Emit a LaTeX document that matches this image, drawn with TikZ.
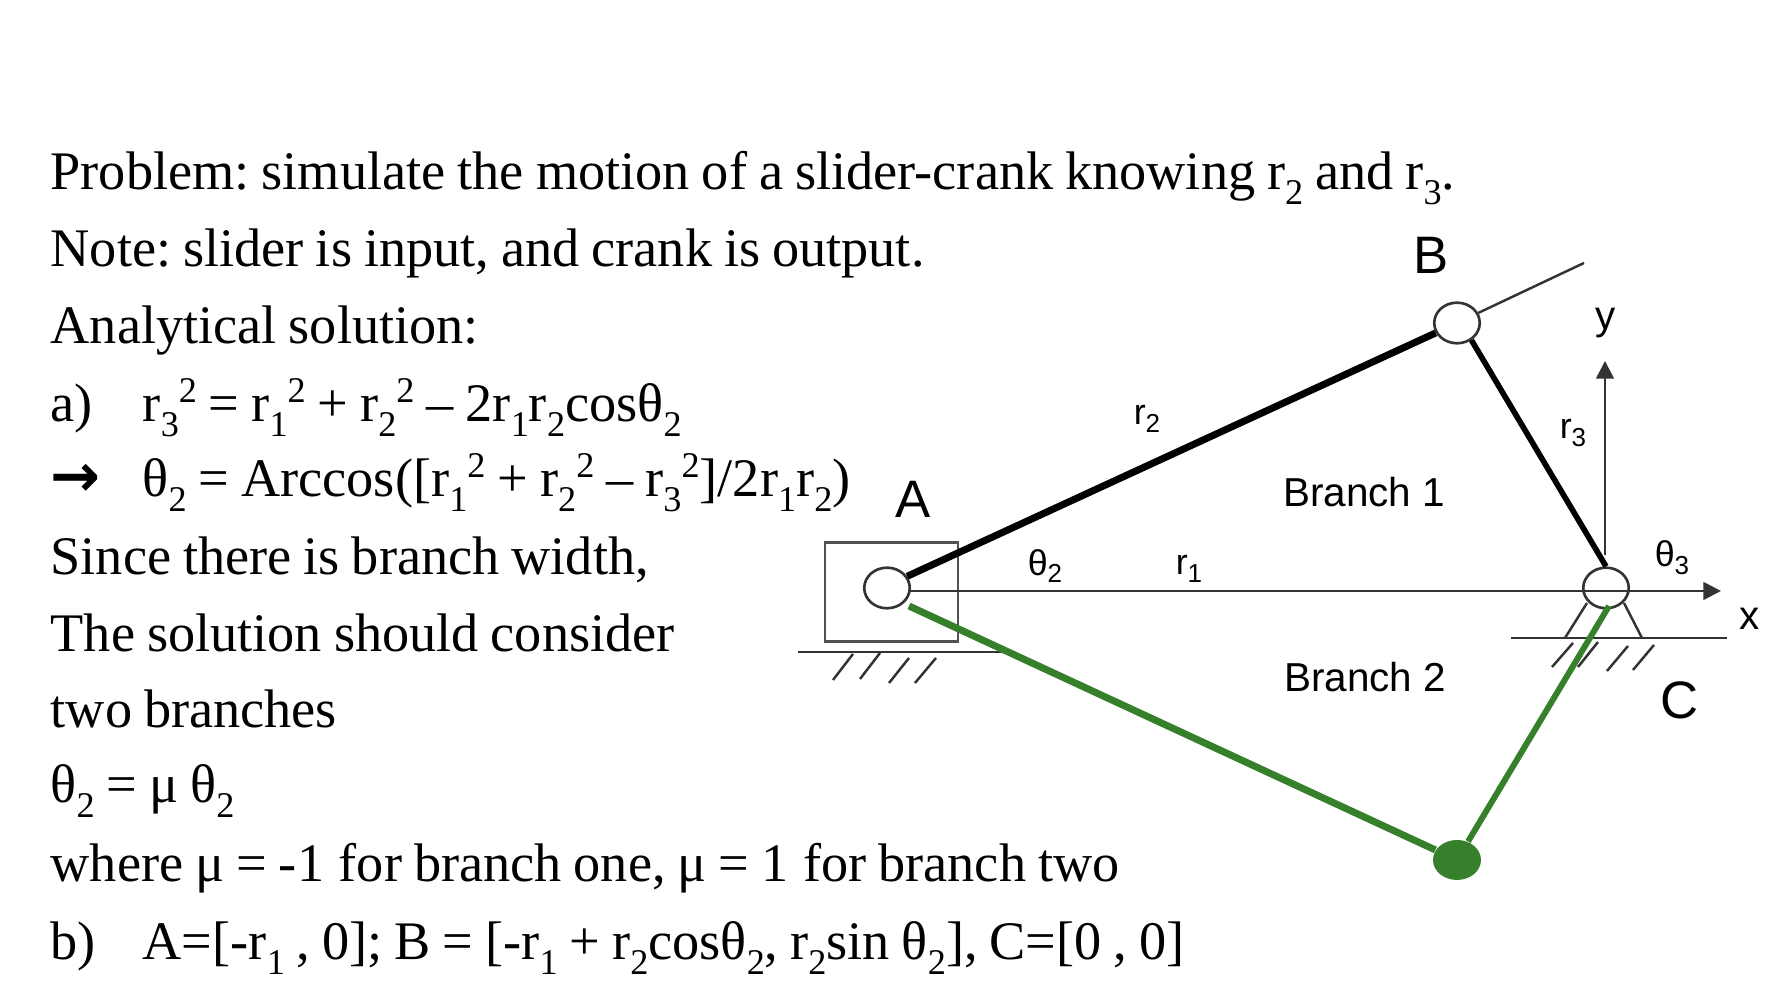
\documentclass[tikz,border=0pt]{standalone}
\usepackage{fontspec}
\setmainfont{Liberation Serif}
\newfontfamily\labelfont{Liberation Sans}
\newfontfamily\arrowfont{DejaVu Sans}
\usetikzlibrary{shapes.geometric,arrows.meta,positioning}
\newcommand{\rsub}[1]{\raisebox{-4pt}{\fontsize{10.3}{11}\selectfont #1}}
\newcommand{\rsup}[1]{\raisebox{5.4pt}{\fontsize{10.3}{11}\selectfont #1}}
\newcommand{\lsub}[1]{\raisebox{-2.2pt}{\fontsize{7.4}{8}\selectfont #1}}
\newcommand{\linefont}{\fontsize{15.45}{18}\selectfont\frenchspacing\setlength{\spaceskip}{0.22em}}
\definecolor{branchgreen}{HTML}{37802B}
\definecolor{thinline}{HTML}{333333}
\tikzset{
    textline/.style={anchor=base west, inner sep=0pt, font=\linefont},
    joint/.style={draw=thinline, line width=0.75pt, fill=white, ellipse, inner sep=0pt, minimum width=4.55mm, minimum height=4.06mm},
    greenjoint/.style={fill=branchgreen, ellipse, inner sep=0pt, minimum width=4.8mm, minimum height=4.0mm},
    thinlink/.style={draw=thinline, line width=0.7pt},
    axisarrow/.style={thinlink, -{Triangle[length=5pt,width=5pt]}},
    blacklink/.style={draw=black, line width=2pt},
    greenlink/.style={draw=branchgreen, line width=2pt},
    capletter/.style={inner sep=0pt, font=\labelfont\fontsize{15}{17}\selectfont},
    smalllabel/.style={inner sep=0pt, font=\labelfont\fontsize{10.2}{12}\selectfont},
    branchlabel/.style={inner sep=0pt, font=\labelfont\fontsize{11.5}{13}\selectfont}
}
\begin{document}
\begin{tikzpicture}
    \useasboundingbox (0,0) rectangle (17.74,10);
    % text lines
    \node[textline] (lineone) at (0.5,8.10) {Problem: simulate the motion of a slider-crank knowing r\rsub{2} and r\rsub{3}.};
    \node[textline] (linetwo) at (0.5,7.33) {Note: slider is input, and crank is output.};
    \node[textline] (linethree) at (0.5,6.56) {Analytical solution:};
    \node[textline] (itema) at (0.5,5.78) {a)};
    \node[textline] (eqa) at (1.42,5.78) {r\rsub{3}\rsup{2} = r\rsub{1}\rsup{2} + r\rsub{2}\rsup{2} -- 2r\rsub{1}r\rsub{2}cosθ\rsub{2}};
    \node[textline, font=\arrowfont\bfseries\fontsize{17}{18}\selectfont] (itemarrow) at (0.5,5.03) {→};
    \node[textline] (eqarrow) at (1.42,5.03) {θ\rsub{2} = Arccos([r\rsub{1}\rsup{2} + r\rsub{2}\rsup{2} -- r\rsub{3}\rsup{2}]/2r\rsub{1}r\rsub{2})};
    \node[textline] (linesix) at (0.5,4.25) {Since there is branch width,};
    \node[textline] (lineseven) at (0.5,3.48) {The solution should consider};
    \node[textline] (lineeight) at (0.5,2.72) {two branches};
    \node[textline] (linenine) at (0.5,1.97) {θ\rsub{2} = μ θ\rsub{2}};
    \node[textline] (lineten) at (0.5,1.18) {where μ = -1\hspace{0.05em} for branch one, μ = 1\hspace{0.05em} for branch two};
    \node[textline] (itemb) at (0.5,0.40) {b)};
    \node[textline] (eqb) at (1.42,0.40) {A=[-r\rsub{1} , 0]; B = [-r\rsub{1} + r\rsub{2}cosθ\rsub{2}, r\rsub{2}sin θ\rsub{2}], C=[0 , 0]};
    % slider block and ground
    \draw[thinlink, draw=thinline!85, line width=0.85pt] (8.25,4.57) rectangle (9.58,3.58);
    \draw[thinlink] (7.98,3.48) -- (10.02,3.48);
    \draw[thinlink] (8.53,3.46) -- (8.33,3.20) (8.80,3.47) -- (8.60,3.21) (9.09,3.42) -- (8.89,3.17) (9.36,3.42) -- (9.15,3.17);
    % pin support and ground
    \draw[thinlink] (15.87,3.97) -- (15.65,3.62) (16.24,3.97) -- (16.42,3.62);
    \draw[thinlink] (15.11,3.62) -- (17.27,3.62);
    \draw[thinlink] (15.73,3.57) -- (15.52,3.33) (15.98,3.58) -- (15.78,3.33) (16.28,3.54) -- (16.07,3.29) (16.54,3.55) -- (16.33,3.30);
    % joints
    \node[joint] (A) at (8.87,4.12) {};
    \node[joint] (B) at (14.57,6.77) {};
    \node[joint] (C) at (16.06,4.12) {};
    \node[greenjoint] (D) at (14.57,1.40) {};
    % free ends
    \coordinate (xstart) at (9.08,4.09);
    \coordinate (xtip) at (17.21,4.09);
    \coordinate (ystart) at (16.05,4.45);
    \coordinate (ytip) at (16.05,6.39);
    \coordinate (Bend) at (15.84,7.37);
    \coordinate (Agreen) at (9.09,3.94);
    \coordinate (Cgreen) at (16.09,3.94);
    % axes
    \draw[axisarrow] (xstart) -- (xtip);
    \draw[axisarrow] (ystart) -- (ytip);
    \draw[thinlink] (B) -- (Bend);
    % links
    \draw[blacklink] (A.30) -- (B.205);
    \draw[blacklink, line width=1.6pt] (B.-50) -- (C.north);
    \draw[greenlink] (Agreen) -- (D);
    \draw[greenlink, line width=1.7pt] (D) -- (Cgreen);
    % labels
    \node[capletter] (labelA) at (9.13,5.01) {A};
    \node[capletter] (labelB) at (14.31,7.45) {B};
    \node[capletter] (labelC) at (16.80,3.00) {C};
    \node[branchlabel] (branchone) at (13.64,5.08) {Branch 1};
    \node[branchlabel] (branchtwo) at (13.65,3.23) {Branch 2};
    \node[smalllabel] (labelrtwo) at (11.47,5.81) {r\lsub{2}};
    \node[smalllabel] (labelrthree) at (15.73,5.67) {r\lsub{3}};
    \node[smalllabel] (labelrone) at (11.89,4.31) {r\lsub{1}};
    \node[smalllabel] (labelttwo) at (10.45,4.34) {θ\lsub{2}};
    \node[smalllabel] (labeltthree) at (16.72,4.42) {θ\lsub{3}};
    \node[branchlabel] (labely) at (16.06,6.77) {y};
    \node[branchlabel] (labelx) at (17.50,3.81) {x};
\end{tikzpicture}
\end{document}
